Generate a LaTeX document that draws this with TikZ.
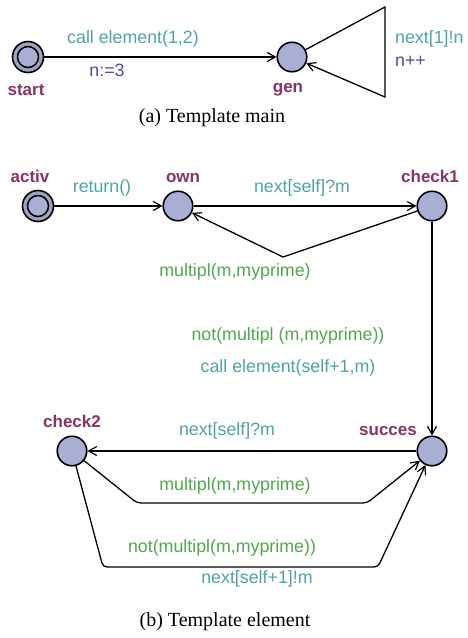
\documentclass[tikz,border=0pt]{standalone}
\usepackage{fontspec}
\setmainfont{Liberation Serif}
\setsansfont{Liberation Sans}
\usetikzlibrary{arrows.meta}
\definecolor{locname}{HTML}{8B3266}
\definecolor{sync}{HTML}{4FA3A8}
\definecolor{upd}{HTML}{4A4AA0}
\definecolor{grd}{HTML}{4FA84F}
\definecolor{locfill}{HTML}{A8AED4}
\definecolor{ringfill}{HTML}{A0A3BD}
\tikzset{
  loc/.style={circle,draw=black,line width=1.6pt,fill=locfill,minimum size=29.5pt,inner sep=0pt},
  initloc/.style={circle,draw=black,line width=1.6pt,fill=ringfill,minimum size=31pt,inner sep=0pt,
    path picture={\draw[line width=1.5pt,fill=locfill] (path picture bounding box.center) circle (10.5pt);}},
  lname/.style={font=\sffamily\bfseries\fontsize{17}{19}\selectfont,text=locname,inner sep=0pt},
  lab/.style={font=\sffamily\fontsize{17.8}{20}\selectfont,inner sep=0pt},
  synclab/.style={lab,text=sync},
  updlab/.style={lab,text=upd},
  grdlab/.style={lab,text=grd},
  captext/.style={font=\fontsize{20}{22}\selectfont,inner sep=0pt},
  edge/.style={line width=1.3pt,-{Straight Barb[length=8pt,width=9pt,line width=1.2pt]}},
}
\begin{document}
\begin{tikzpicture}[x=1pt,y=-1pt]
\useasboundingbox (0,0) rectangle (468,638);
% (a) Template main
\node[initloc] (start) at (28,57) {};
\node[loc] (gen) at (292,57) {};
\node[lname] (startn) at (26,90) {start};
\node[lname] (genn) at (288,90) {gen};
\draw[edge] (start) -- (gen);
\node[synclab] (l1) at (133,39) {call element(1,2)};
\node[updlab] (l2) at (107,70) {n:=3};
\coordinate (ga) at (385,7);
\coordinate (gb) at (385,97);
\draw[edge] (gen) -- (ga) -- (gb) -- (gen);
\node[synclab,anchor=west] (l3) at (395,39) {next[1]!n};
\node[updlab,anchor=west] (l4) at (395,61) {n++};
\node[captext] (capa) at (212,118) {(a) Template main};
% (b) Template element
\node[initloc] (activ) at (38,206) {};
\node[loc] (own) at (178,206) {};
\node[loc] (check1) at (432,206) {};
\node[loc] (check2) at (72,451) {};
\node[loc] (succes) at (432,451) {};
\node[lname] (activn) at (30,176) {activ};
\node[lname] (ownn) at (183,178) {own};
\node[lname] (check1n) at (430,176) {check1};
\node[lname] (check2n) at (72,421) {check2};
\node[lname] (succesn) at (388,431) {succes};
\draw[edge] (activ) -- (own);
\node[synclab] (l5) at (102,188) {return()};
\draw[edge] (own) -- (check1);
\node[synclab] (l6) at (302,188) {next[self]?m};
\coordinate (c1) at (283,257);
\draw[edge] (check1) -- (c1) -- (own);
\node[grdlab] (l7) at (235,272) {multipl(m,myprime)};
\draw[edge] (check1) -- (succes);
\node[grdlab] (l8) at (288,336) {not(multipl (m,myprime))};
\node[synclab] (l9) at (288,368) {call element(self+1,m)};
\draw[edge] (succes) -- (check2);
\node[synclab] (l10) at (227,431) {next[self]?m};
\coordinate (p1) at (137,503);
\coordinate (p2) at (367,503);
\draw[edge,rounded corners=4pt] (check2) -- (p1) -- (p2) -- (succes);
\node[grdlab] (l11) at (235,486) {multipl(m,myprime)};
\coordinate (q1) at (103,567);
\coordinate (q2) at (378,567);
\draw[edge,rounded corners=4pt] (check2) -- (q1) -- (q2) -- (succes);
\node[grdlab] (l12) at (222,548) {not(multipl(m,myprime))};
\node[synclab] (l13) at (257,579) {next[self+1]!m};
\node[captext] (capb) at (225,622) {(b) Template element};
\end{tikzpicture}
\end{document}
